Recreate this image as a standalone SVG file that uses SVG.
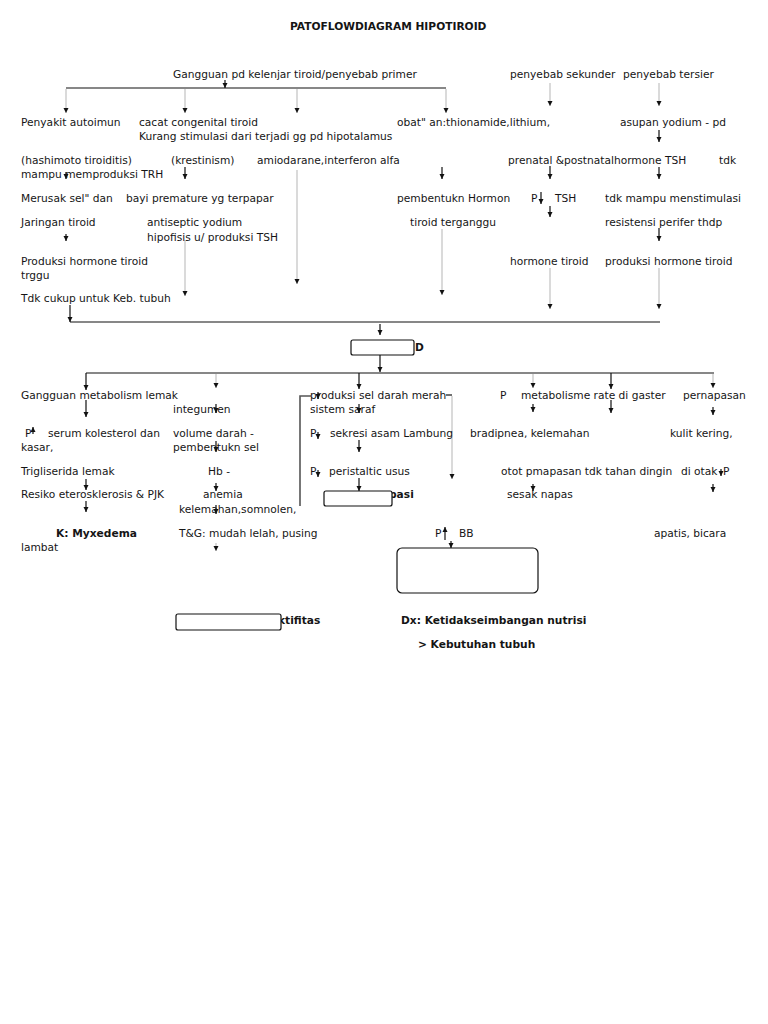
<svg xmlns="http://www.w3.org/2000/svg" width="768" height="1024" viewBox="0 0 768 1024">
<style>
text{font-family:"DejaVu Sans","Verdana",sans-serif;font-size:10.65px;fill:#151515}
.b{font-weight:bold}
.k{stroke:#111;stroke-width:1.2;fill:none}
.ka{stroke:#111;stroke-width:1.2;fill:none;marker-end:url(#ah)}
.g{stroke:#b5b5b5;stroke-width:1;fill:none;marker-end:url(#ah)}
.gl{stroke:#b5b5b5;stroke-width:1;fill:none}
.d{stroke:#555;stroke-width:1.6;fill:none}
.box{fill:#fff;stroke:#111;stroke-width:1.2}
</style>
<defs>
<marker id="ah" viewBox="0 0 6 6" refX="6" refY="3" markerWidth="5" markerHeight="6" markerUnits="userSpaceOnUse" orient="auto">
<path d="M0,0 L6,3 L0,6 z" fill="#111"/>
</marker>
</defs>
<rect width="768" height="1024" fill="#fff"/>
<text class="b" x="290" y="30">PATOFLOWDIAGRAM HIPOTIROID</text>

<g id="connectors">
<line class="k" x1="66" y1="88" x2="446" y2="88"/>
<line class="ka" x1="225" y1="80" x2="225" y2="88"/>
<line class="g" x1="66" y1="89" x2="66" y2="113"/>
<line class="g" x1="185" y1="89" x2="185" y2="113"/>
<line class="g" x1="297" y1="89" x2="297" y2="113"/>
<line class="g" x1="446" y1="89" x2="446" y2="113"/>
<line class="g" x1="550" y1="83" x2="550" y2="106"/>
<line class="g" x1="659" y1="83" x2="659" y2="106"/>
<line class="ka" x1="659" y1="130" x2="659" y2="142"/>
<line class="ka" x1="66" y1="172" x2="66" y2="179"/>
<line class="ka" x1="185" y1="167" x2="185" y2="179"/>
<line class="ka" x1="442" y1="167" x2="442" y2="179"/>
<line class="ka" x1="550" y1="166" x2="550" y2="179"/>
<line class="ka" x1="659" y1="167" x2="659" y2="179"/>
<line class="ka" x1="541" y1="192" x2="541" y2="204"/>
<line class="ka" x1="550" y1="206" x2="550" y2="217"/>
<line class="ka" x1="66" y1="234" x2="66" y2="241"/>
<line class="ka" x1="659" y1="228" x2="659" y2="241"/>
<line class="g" x1="297" y1="170" x2="297" y2="284"/>
<line class="g" x1="185" y1="240" x2="185" y2="296"/>
<line class="g" x1="442" y1="229" x2="442" y2="295"/>
<line class="g" x1="550" y1="268" x2="550" y2="309"/>
<line class="g" x1="659" y1="268" x2="659" y2="309"/>
<line class="k" x1="70" y1="322" x2="660" y2="322"/>
<line class="ka" x1="70" y1="305" x2="70" y2="322"/>
<line class="ka" x1="380" y1="324" x2="380" y2="335"/>
<line class="ka" x1="380" y1="355" x2="380" y2="372"/>
<line class="k" x1="86" y1="373" x2="714" y2="373"/>
<line class="ka" x1="86" y1="373" x2="86" y2="390"/>
<line class="g" x1="216" y1="374" x2="216" y2="388"/>
<line class="ka" x1="359" y1="373" x2="359" y2="389"/>
<line class="g" x1="533" y1="374" x2="533" y2="388"/>
<line class="ka" x1="611" y1="373" x2="611" y2="389"/>
<line class="g" x1="713" y1="374" x2="713" y2="388"/>
<path class="d" d="M311,396 H300 V506"/>
<line class="ka" x1="318" y1="392" x2="318" y2="399"/>
<line class="k" x1="446" y1="395" x2="452" y2="395"/>
<line class="g" x1="452" y1="396" x2="452" y2="479"/>
<line class="ka" x1="86" y1="400" x2="86" y2="417"/>
<line class="ka" x1="216" y1="404" x2="216" y2="413"/>
<line class="ka" x1="359" y1="404" x2="359" y2="413"/>
<line class="ka" x1="533" y1="404" x2="533" y2="412"/>
<line class="ka" x1="611" y1="400" x2="611" y2="413"/>
<line class="ka" x1="713" y1="407" x2="713" y2="415"/>
<line class="ka" x1="33" y1="434" x2="33" y2="427"/>
<line class="ka" x1="318" y1="432" x2="318" y2="439"/>
<line class="ka" x1="216" y1="441" x2="216" y2="452"/>
<line class="ka" x1="359" y1="440" x2="359" y2="452"/>
<line class="ka" x1="318" y1="470" x2="318" y2="477"/>
<line class="ka" x1="86" y1="479" x2="86" y2="490"/>
<line class="ka" x1="216" y1="483" x2="216" y2="491"/>
<line class="ka" x1="359" y1="478" x2="359" y2="491"/>
<line class="ka" x1="533" y1="484" x2="533" y2="491"/>
<line class="ka" x1="713" y1="484" x2="713" y2="492"/>
<line class="ka" x1="721" y1="469" x2="721" y2="476"/>
<line class="ka" x1="86" y1="501" x2="86" y2="512"/>
<line class="ka" x1="216" y1="505" x2="216" y2="514"/>
<line class="ka" x1="445" y1="540" x2="445" y2="527"/>
<line class="ka" x1="451" y1="541" x2="451" y2="548"/>
<line class="g" x1="216" y1="543" x2="216" y2="551"/>
</g>

<g id="texts">
<text x="173" y="78">Gangguan pd kelenjar tiroid/penyebab primer</text>
<text x="510" y="78">penyebab sekunder</text>
<text x="623" y="78">penyebab tersier</text>
<text x="21" y="126">Penyakit autoimun</text>
<text x="139" y="126">cacat congenital tiroid</text>
<text x="397" y="126">obat" an:thionamide,lithium,</text>
<text x="620" y="126">asupan yodium - pd</text>
<text x="139" y="140">Kurang stimulasi dari terjadi gg pd hipotalamus</text>
<text x="21" y="164">(hashimoto tiroiditis)</text>
<text x="171" y="164">(krestinism)</text>
<text x="257" y="164">amiodarane,interferon alfa</text>
<text x="508" y="164">prenatal &amp;postnatalhormone TSH</text>
<text x="719" y="164">tdk</text>
<text x="21" y="178">mampu memproduksi TRH</text>
<text x="21" y="202">Merusak sel" dan</text>
<text x="126" y="202">bayi premature yg terpapar</text>
<text x="397" y="202">pembentukn Hormon</text>
<text x="531" y="202">P</text>
<text x="555" y="202">TSH</text>
<text x="605" y="202">tdk mampu menstimulasi</text>
<text x="21" y="226">Jaringan tiroid</text>
<text x="147" y="226">antiseptic yodium</text>
<text x="410" y="226">tiroid terganggu</text>
<text x="605" y="226">resistensi perifer thdp</text>
<text x="147" y="241">hipofisis u/ produksi TSH</text>
<text x="21" y="265">Produksi hormone tiroid</text>
<text x="510" y="265">hormone tiroid</text>
<text x="605" y="265">produksi hormone tiroid</text>
<text x="21" y="279">trggu</text>
<text x="21" y="302">Tdk cukup untuk Keb. tubuh</text>
<text x="21" y="399">Gangguan metabolism lemak</text>
<text x="310" y="399">produksi sel darah merah</text>
<text x="500" y="399">P</text>
<text x="521" y="399">metabolisme rate di gaster</text>
<text x="683" y="399">pernapasan</text>
<text x="173" y="413">integumen</text>
<text x="310" y="413">sistem saraf</text>
<text x="25" y="437">P</text>
<text x="48" y="437">serum kolesterol dan</text>
<text x="173" y="437">volume darah -</text>
<text x="310" y="437">P</text>
<text x="330" y="437">sekresi asam Lambung</text>
<text x="470" y="437">bradipnea, kelemahan</text>
<text x="670" y="437">kulit kering,</text>
<text x="21" y="451">kasar,</text>
<text x="173" y="451">pembentukn sel</text>
<text x="21" y="475">Trigliserida lemak</text>
<text x="208" y="475">Hb -</text>
<text x="310" y="475">P</text>
<text x="329" y="475">peristaltic usus</text>
<text x="501" y="475">otot pmapasan tdk tahan dingin</text>
<text x="681" y="475">di otak</text>
<text x="723" y="475">P</text>
<text x="21" y="498">Resiko eterosklerosis &amp; PJK</text>
<text x="203" y="498">anemia</text>
<text class="b" x="389" y="498">pasi</text>
<text x="507" y="498">sesak napas</text>
<text x="179" y="513">kelemahan,somnolen,</text>
<text class="b" x="56" y="537">K: Myxedema</text>
<text x="179" y="537">T&amp;G: mudah lelah, pusing</text>
<text x="435" y="537">P</text>
<text x="459" y="537">BB</text>
<text x="654" y="537">apatis, bicara</text>
<text x="21" y="551">lambat</text>
<text class="b" x="278" y="624">ktifitas</text>
<text class="b" x="401" y="624">Dx: Ketidakseimbangan nutrisi</text>
<text class="b" x="418" y="648">&gt; Kebutuhan tubuh</text>
<text class="b" x="415" y="351">D</text>
</g>

<g id="node-box-d"><rect class="box" x="351" y="340" width="63" height="15" rx="2"/></g>
<g id="node-box-konstipasi"><rect class="box" x="324" y="491" width="68" height="15" rx="2"/></g>
<g id="node-box-nutrisi"><rect class="box" x="397" y="548" width="141" height="45" rx="5"/></g>
<g id="node-box-aktifitas"><rect class="box" x="176" y="614" width="105" height="16" rx="2"/></g>
</svg>
